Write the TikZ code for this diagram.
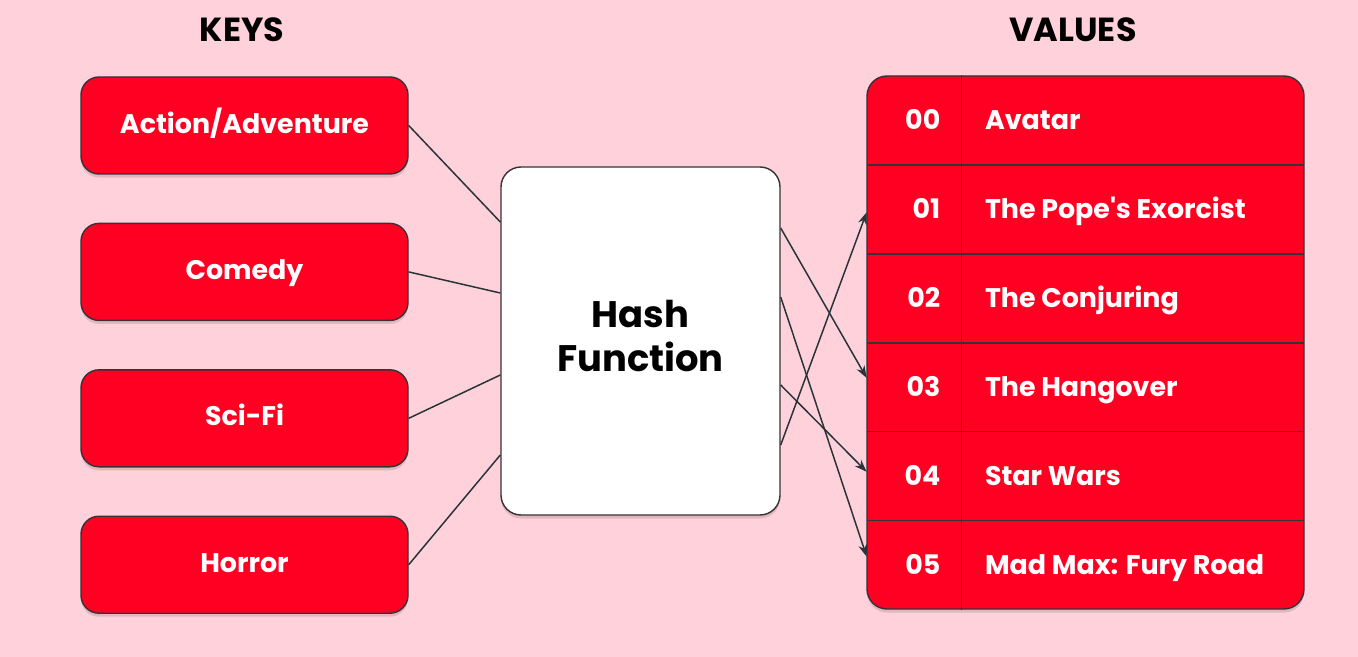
\documentclass[tikz,border=0pt]{standalone}
\usepackage{fontspec}
\setmainfont{Poppins}
\usetikzlibrary{arrows.meta, positioning, shadows}
\definecolor{BgPink}{RGB}{255, 209, 218}
\definecolor{KeyRed}{RGB}{255, 0, 34}
\definecolor{EdgeGray}{RGB}{55, 50, 55}
\definecolor{LinkGray}{RGB}{40, 52, 58}

\tikzset{
  softshadow/.style={drop shadow={shadow xshift=0pt, shadow yshift=-2pt, opacity=0.12, fill=black}},
  keybox/.style={draw=EdgeGray, line width=0.8pt, fill=KeyRed, rounded corners=0.36cm,
    minimum width=6.54cm, minimum height=1.94cm, text=white,
    font=\fontsize{15.3}{18}\selectfont\bfseries, text height=10.7pt, text depth=2pt, softshadow},
  hashbox/.style={draw=EdgeGray, line width=0.8pt, fill=white, rounded corners=0.4cm,
    minimum width=5.58cm, minimum height=6.96cm, align=center, text depth=5.5pt,
    font=\fontsize{21}{25}\selectfont\bfseries, softshadow},
  tablebox/.style={draw=EdgeGray, line width=0.8pt, fill=KeyRed, rounded corners=0.4cm,
    minimum width=8.74cm, minimum height=10.66cm, softshadow},
  rowcell/.style={minimum width=8.74cm, minimum height=1.777cm, inner sep=0pt},
  celltext/.style={text=white, font=\fontsize{15.3}{18}\selectfont\bfseries, inner sep=0pt},
  heading/.style={font=\fontsize{19}{22}\selectfont\bfseries},
  link/.style={LinkGray, line width=0.85pt},
  pointer/.style={link, -{Stealth[length=7pt, width=5pt]}}
}

\begin{document}
\begin{tikzpicture}
\fill[BgPink] (0,0) rectangle (27.16,-13.14);
\useasboundingbox (0,0) rectangle (27.16,-13.14);

% keys
\node[heading] (keys) at (4.84,-0.6) {KEYS};
\node[keybox] (k1) at (4.89,-2.51) {Action/Adventure};
\node[keybox, below=0.96cm of k1] (k2) {Comedy};
\node[keybox, below=0.96cm of k2] (k3) {Sci-Fi};
\node[keybox, below=0.96cm of k3] (k4) {Horror};

% hash function
\node[hashbox] (hash) at (12.81,-6.82) {Hash\\Function};

% values
\node[heading] (values) at (21.46,-0.6) {VALUES};
\node[tablebox] (tbl) at (21.71,-6.85) {};
\foreach \num/\title [count=\i from 0] in {00/Avatar, 01/The Pope\textquotesingle s Exorcist,
    02/The Conjuring, 03/The Hangover, 04/Star Wars, 05/Mad Max: Fury Road} {
  \node[rowcell] (v\i) at (21.71,{-2.408-1.777*\i}) {};
  \node[celltext, anchor=base east] (n\i) at ([shift={(1.48,-0.19)}]v\i.west) {\num};
  \node[celltext, anchor=base west] (t\i) at ([shift={(2.36,-0.19)}]v\i.west) {\title};
}
\foreach \i in {0,...,4}
  \draw[EdgeGray, line width=0.8pt] (v\i.south west) -- (v\i.south east);
\draw[EdgeGray, line width=0.8pt] ([xshift=1.9cm]tbl.north west) -- ([xshift=1.9cm]tbl.south west);

% keys to hash
\draw[link] (k1.east) -- ([yshift=2.38cm]hash.west);
\draw[link] (k2.east) -- ([yshift=0.96cm]hash.west);
\draw[link] (k3.east) -- ([yshift=-0.68cm]hash.west);
\draw[link] (k4.east) -- ([yshift=-2.28cm]hash.west);

% hash to values
\draw[pointer] ([yshift=2.26cm]hash.east) -- ([yshift=0.18cm]v3.west);
\draw[pointer] ([yshift=0.88cm]hash.east) -- ([yshift=0.16cm]v5.west);
\draw[pointer] ([yshift=-0.88cm]hash.east) -- ([yshift=0.08cm]v4.west);
\draw[pointer] ([yshift=-2.08cm]hash.east) -- ([yshift=-0.06cm]v1.west);
\end{tikzpicture}
\end{document}
